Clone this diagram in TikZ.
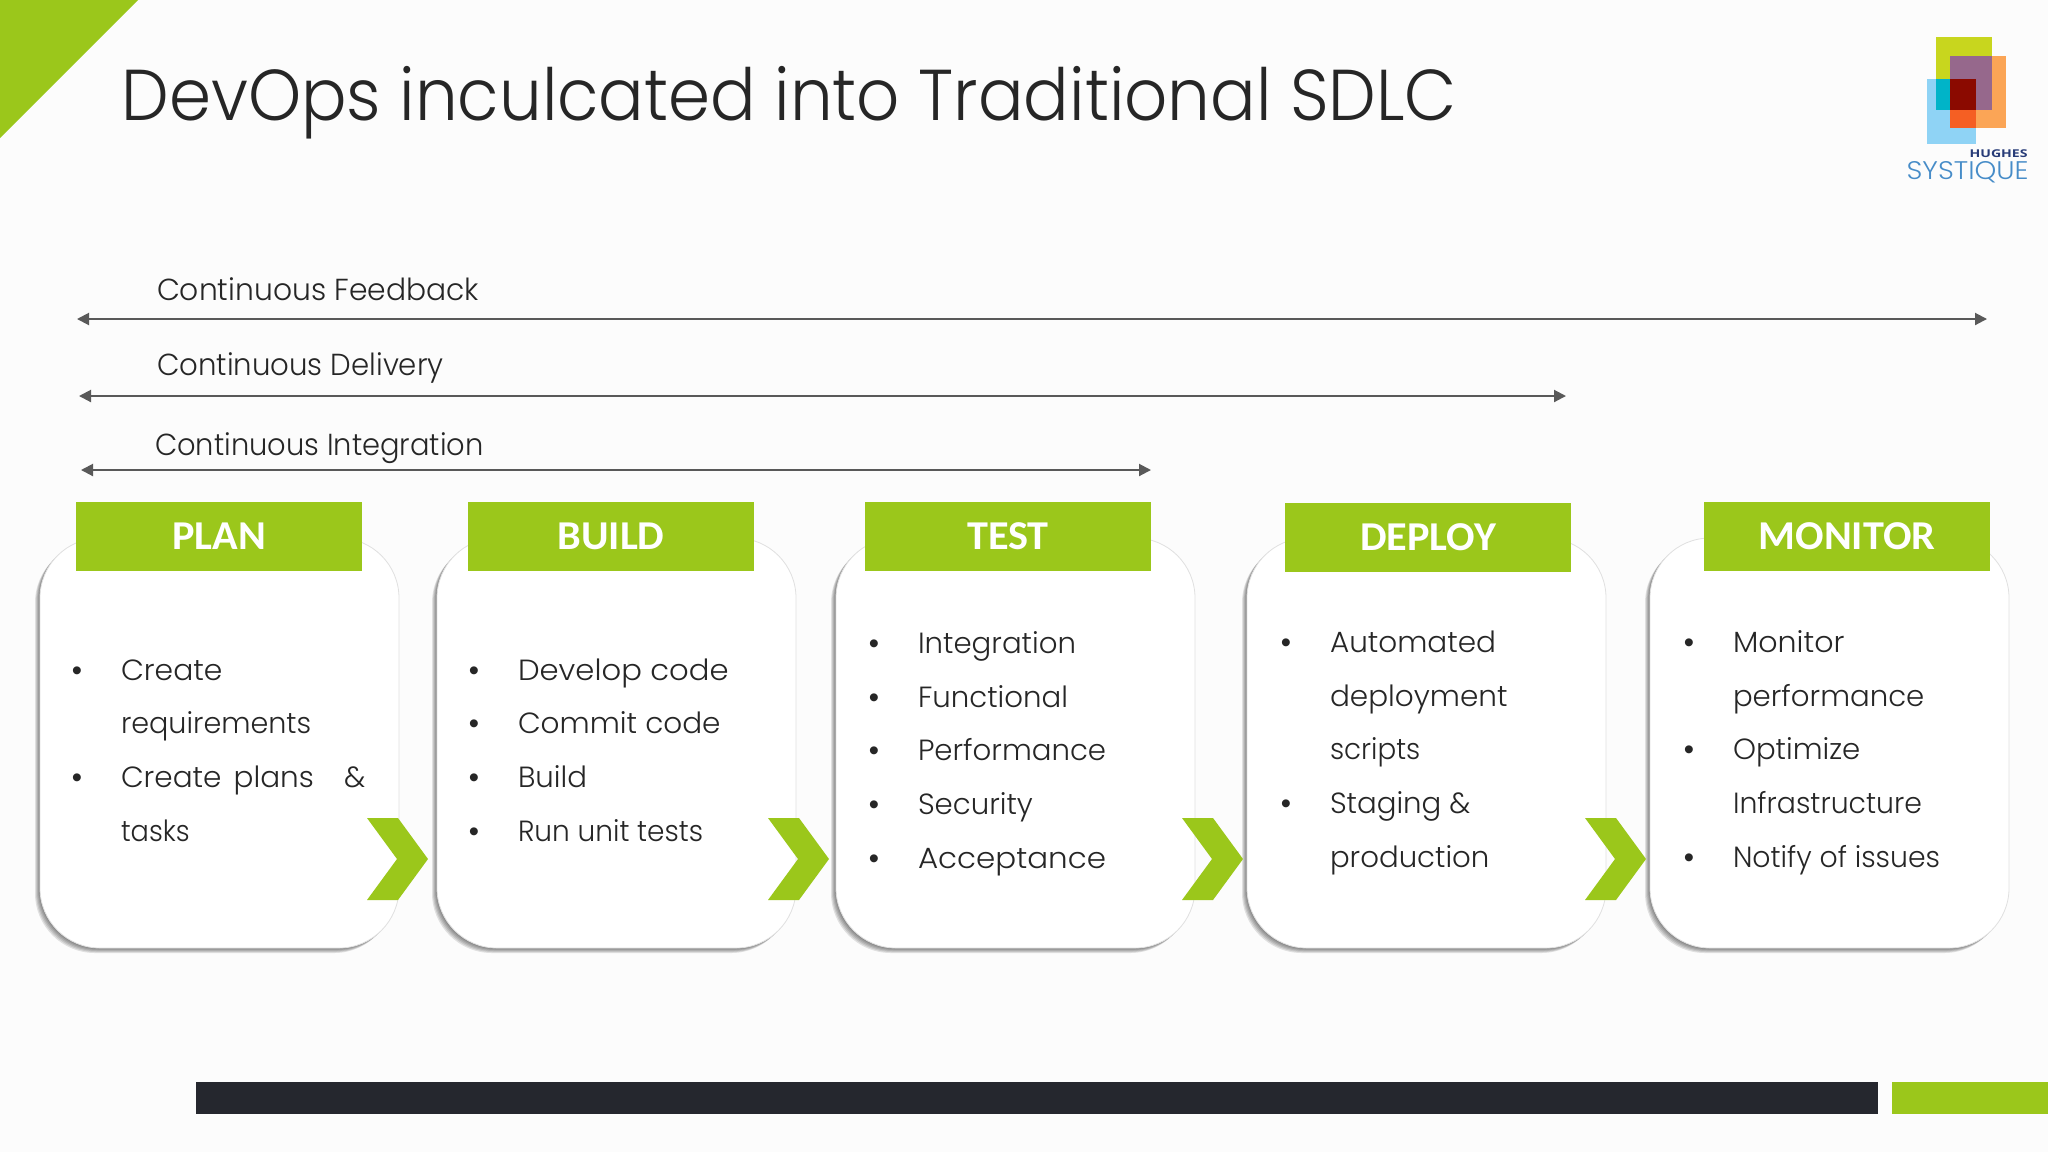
\documentclass[tikz,border=0pt]{standalone}
\usepackage{fontspec}
\setmainfont{Poppins Light}
\newfontfamily\titlefont{Poppins Light}[FakeStretch=0.938]
\newfontfamily\labelfont{Poppins Light}[FakeStretch=0.97]
\newfontfamily\hdfont{Carlito}[UprightFont=* Bold]
\newfontfamily\logofont{Open Sans}[UprightFont=* Bold]
\newfontfamily\bulfont{Liberation Sans}
\usetikzlibrary{arrows.meta}
\definecolor{lime}{HTML}{9BC71B}
\definecolor{ink}{HTML}{262626}
\definecolor{arrowgray}{HTML}{595959}
\definecolor{barcol}{HTML}{25272E}
\newcommand{\sx}[2]{\scalebox{#1}[1]{#2}}
\newcommand{\hd}[1]{\raisebox{-0.8pt}{\sx{1.03}{#1}}}
\tikzset{
 x=0.5pt,y=-0.5pt,
 cardbox/.style={draw=black!12,line width=0.4pt,fill=white,rounded corners=30pt,minimum width=179.5pt,minimum height=205pt,inner sep=0,outer sep=0,anchor=north west},
 cardshade/.style={fill=black,opacity=0.11,rounded corners=30pt,minimum width=179.5pt,minimum height=205pt,inner sep=0,outer sep=0,anchor=north west},
 headbox/.style={fill=lime,minimum width=143pt,minimum height=34.5pt,inner sep=0,outer sep=0,anchor=north west,text=white,font=\hdfont\fontsize{20.5}{20.5}\selectfont},
 itemtext/.style={anchor=base west,inner sep=0,outer sep=0,text=ink,font=\fontsize{14.6}{14.6}\selectfont},
 bullettext/.style={anchor=base,inner sep=0,outer sep=0,text=ink,font=\bulfont\fontsize{14.6}{14.6}\selectfont},
 spanlabel/.style={anchor=base west,inner sep=0,outer sep=0,text=ink,font=\labelfont\fontsize{15.2}{15.2}\selectfont},
 spanarrow/.style={arrowgray,line width=1pt,{Triangle[length=6pt,width=6pt]}-{Triangle[length=6pt,width=6pt]}},
 nextmark/.style={fill=lime},
}
\newcommand{\shadedcard}[3]{%
 \foreach \k in {5,4,3,2,1} {\node[cardshade] at (#2-\k,#3+\k) {};}
 \node[cardbox] (#1) at (#2,#3) {};
}
\newcommand{\chev}[1]{\fill[nextmark] (#1,818) -- ++(31,0) -- ++(30,41) -- ++(-30,41) -- ++(-31,0) -- ++(30,-41) -- cycle;}
\newcommand{\bul}[3]{\node[bullettext] at (#1,#2) {•};\node[itemtext] at (#1+44,#2) {#3};}
\newcommand{\cont}[3]{\node[itemtext] at (#1+44,#2) {#3};}
\begin{document}
\begin{tikzpicture}
\useasboundingbox (0,0) rectangle (2048,1152);
\fill[white!99!black] (0,0) rectangle (2048,1152);
\fill[lime] (0,0) -- (138,0) -- (0,138) -- cycle;
\node[anchor=base west,inner sep=0,text=ink,font=\titlefont\fontsize{36}{36}\selectfont] (title) at (121,120) {DevOps inculcated into Traditional SDLC};
% logo
\fill[fill={rgb,255:red,200;green,214;blue,30}] (1936,37) rectangle (1992,110);
\fill[fill={rgb,255:red,251;green,165;blue,86}] (1950,56) rectangle (2006,128);
\fill[fill={rgb,255:red,143;green,211;blue,245}] (1927,79) rectangle (1976,144);
\fill[fill={rgb,255:red,150;green,104;blue,140}] (1950,56) rectangle (1992,110);
\fill[fill={rgb,255:red,0;green,180;blue,200}] (1936,79) rectangle (1950,110);
\fill[fill={rgb,255:red,139;green,10;blue,0}] (1950,79) rectangle (1976,110);
\fill[fill={rgb,255:red,245;green,95;blue,35}] (1950,110) rectangle (1976,128);
\node[anchor=base east,inner sep=0,text={rgb,255:red,40;green,60;blue,120},font=\logofont] (hughes) at (2028,157) {\resizebox{29pt}{3.9pt}{HUGHES}};
\node[anchor=base east,inner sep=0,text={rgb,255:red,70;green,140;blue,200}] (systique) at (2029,179) {\resizebox{61pt}{9pt}{SYSTIQUE}};
% spans
\node[spanlabel] (lf) at (157,300) {\sx{1.01}{Continuous Feedback}};
\node[spanlabel] (ld) at (157,375) {\sx{0.99}{Continuous Delivery}};
\node[spanlabel] (li) at (155,455) {\sx{0.98}{Continuous Integration}};
\coordinate (fa) at (77,319); \coordinate (fb) at (1987,319);
\coordinate (da) at (79,396); \coordinate (db) at (1566,396);
\coordinate (ia) at (81,470); \coordinate (ib) at (1151,470);
\draw[spanarrow] (fa) -- (fb);
\draw[spanarrow] (da) -- (db);
\draw[spanarrow] (ia) -- (ib);
% cards
\shadedcard{c1}{40}{538}
\shadedcard{c2}{437}{538}
\shadedcard{c3}{836}{538}
\shadedcard{c4}{1247}{538}
\shadedcard{c5}{1650}{538}
\node[headbox] (h1) at (76,502) {\hd{PLAN}};
\node[headbox] (h2) at (468,502) {\hd{BUILD}};
\node[headbox] (h3) at (865,502) {\hd{TEST}};
\node[headbox] (h4) at (1285,503) {\hd{DEPLOY}};
\node[headbox] (h5) at (1704,502) {\hd{MONITOR}};
\chev{367}\chev{768}\chev{1182}\chev{1585}
% items
\bul{77}{680}{\sx{1.02}{Create}}
\cont{77}{733.5}{\sx{0.98}{requirements}}
\bul{77}{787}{\sx{1.01}{Create\hspace{6pt}plans\hspace{15pt}\&}}
\cont{77}{841}{\sx{0.93}{tasks}}
\bul{474}{680}{\sx{1.05}{Develop code}}
\bul{474}{733.5}{\sx{1.01}{Commit code}}
\bul{474}{787}{Build}
\bul{474}{841}{\sx{0.96}{Run unit tests}}
\bul{874}{653}{Integration}
\bul{874}{707}{Functional}
\bul{874}{760}{Performance}
\bul{874}{814}{Security}
\bul{874}{868}{\sx{1.06}{Acceptance}}
\bul{1286}{652}{\sx{1.01}{Automated}}
\cont{1286}{706}{\sx{1.01}{deployment}}
\cont{1286}{759}{\sx{0.95}{scripts}}
\bul{1286}{813}{Staging \&}
\cont{1286}{867}{production}
\bul{1689}{652}{\sx{1.03}{Monitor}}
\cont{1689}{706}{performance}
\bul{1689}{759}{Optimize}
\cont{1689}{813}{\sx{0.97}{Infrastructure}}
\bul{1689}{867}{\sx{0.97}{Notify of issues}}
% bars
\fill[barcol] (196,1082) rectangle (1878,1114);
\fill[lime] (1892,1082) rectangle (2048,1114);
\end{tikzpicture}
\end{document}
